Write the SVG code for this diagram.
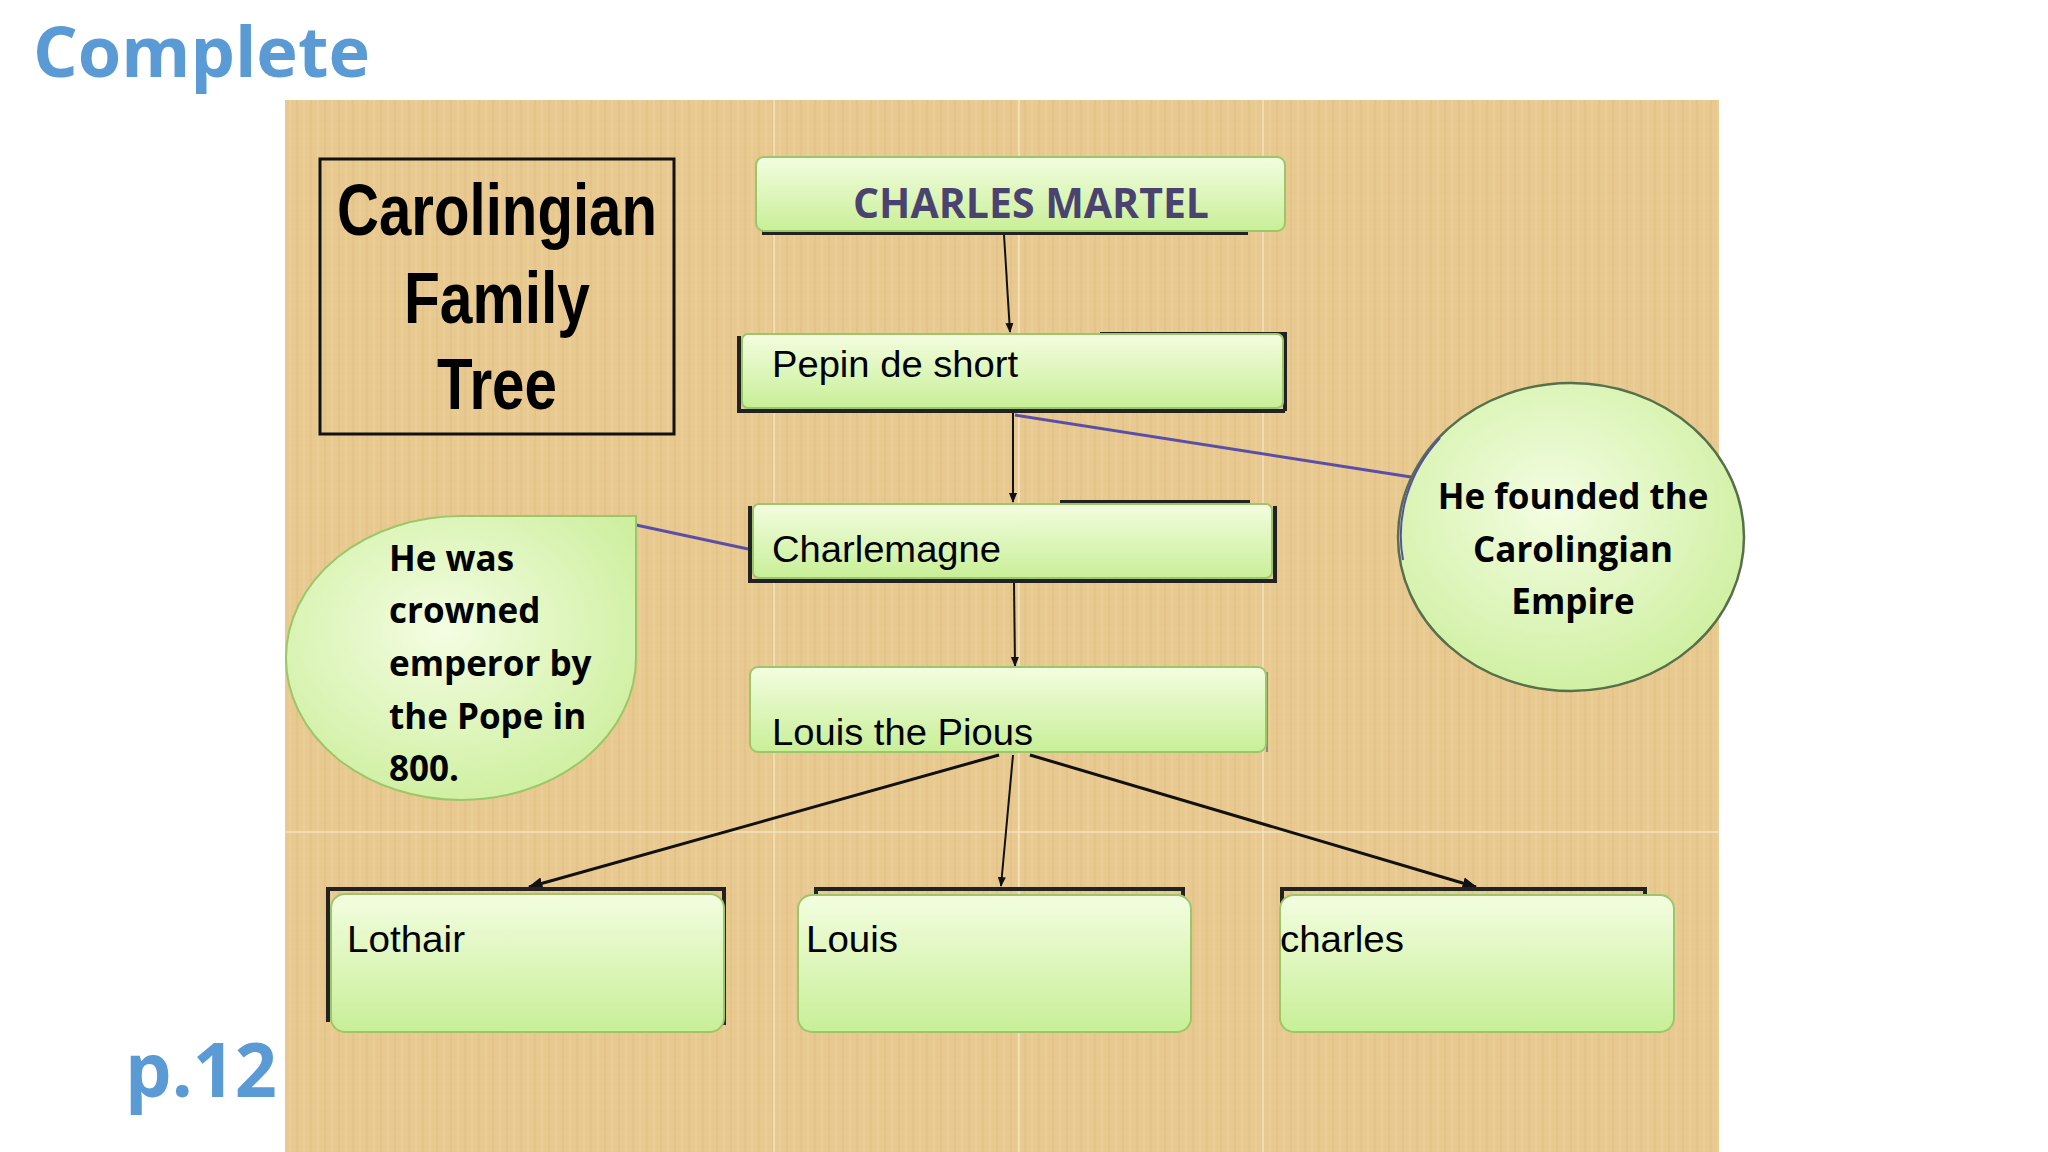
<svg xmlns="http://www.w3.org/2000/svg" width="2048" height="1152" viewBox="0 0 2048 1152">
<defs>
<linearGradient id="g" x1="0" y1="0" x2="0" y2="1">
<stop offset="0" stop-color="#f3fde0"/>
<stop offset="1" stop-color="#c8ef97"/>
</linearGradient>
<radialGradient id="gc" cx="0.45" cy="0.4" r="0.65">
<stop offset="0" stop-color="#f4fde2"/>
<stop offset="1" stop-color="#cdef9e"/>
</radialGradient>
<pattern id="tex" width="14" height="9" patternUnits="userSpaceOnUse">
<rect width="14" height="9" fill="#e8c990"/>
<line x1="3" y1="0" x2="3" y2="9" stroke="#d9b477" stroke-width="1" opacity="0.45"/>
<line x1="10" y1="0" x2="10" y2="9" stroke="#f3dcaa" stroke-width="1" opacity="0.5"/>
<line x1="0" y1="4" x2="14" y2="4" stroke="#dcbb80" stroke-width="1" opacity="0.25"/>
</pattern>
<marker id="ah" viewBox="0 0 10 10" refX="9" refY="5" markerWidth="5" markerHeight="5" orient="auto">
<path d="M0,1 L10,5 L0,9 Z" fill="#111"/>
</marker>
<style>
.box{fill:url(#g);stroke:#9cc66a;stroke-width:2}
.lbl{font-family:"Liberation Sans",Arial,sans-serif;font-size:37px;fill:#000}
.bub{font-family:"Open Sans","Noto Sans",sans-serif;font-weight:bold;font-size:35px;fill:#000}
.con{stroke:#111;fill:none;marker-end:url(#ah)}
.note{stroke:#5b4ea6;stroke-width:3;fill:none}
.shadow{stroke:#222;stroke-width:4;fill:none}
</style>
</defs>
<rect width="2048" height="1152" fill="#ffffff"/>
<g id="panel">
<rect x="285" y="100" width="1434" height="1052" fill="url(#tex)"/>
<line x1="774" y1="100" x2="774" y2="1152" stroke="#f6e7c4" stroke-width="2" opacity="0.7"/>
<line x1="1019" y1="100" x2="1019" y2="1152" stroke="#f6e7c4" stroke-width="2" opacity="0.7"/>
<line x1="1263" y1="100" x2="1263" y2="1152" stroke="#f6e7c4" stroke-width="2" opacity="0.7"/>
<line x1="285" y1="832" x2="1719" y2="832" stroke="#f6e7c4" stroke-width="2" opacity="0.7"/>
</g>
<g id="heading">
<text x="33" y="77" font-family="'Open Sans','Noto Sans',sans-serif" font-weight="bold" font-size="70" fill="#5b9bd5" textLength="337" lengthAdjust="spacingAndGlyphs">Complete</text>
</g>
<g id="page">
<text x="125" y="1097" font-family="'Open Sans','Noto Sans',sans-serif" font-weight="bold" font-size="76" fill="#5b9bd5" textLength="152" lengthAdjust="spacingAndGlyphs">p.12</text>
</g>
<g id="title">
<rect x="320" y="159" width="354" height="275" fill="none" stroke="#111" stroke-width="3"/>
<g font-family="'Liberation Sans',Arial,sans-serif" font-weight="bold" font-size="72" fill="#000" text-anchor="middle">
<text x="497" y="235" textLength="320" lengthAdjust="spacingAndGlyphs">Carolingian</text>
<text x="497" y="323" textLength="186" lengthAdjust="spacingAndGlyphs">Family</text>
<text x="497" y="409" textLength="120" lengthAdjust="spacingAndGlyphs">Tree</text>
</g>
</g>
<g id="connectors">
<line class="con" x1="1004" y1="235" x2="1010" y2="332" stroke-width="2"/>
<line class="con" x1="1013" y1="413" x2="1013" y2="502" stroke-width="2"/>
<line class="con" x1="1014" y1="583" x2="1015" y2="666" stroke-width="2"/>
<line class="con" x1="999" y1="755" x2="529" y2="887" stroke-width="3"/>
<line class="con" x1="1013" y1="755" x2="1001" y2="886" stroke-width="2"/>
<line class="con" x1="1030" y1="755" x2="1476" y2="887" stroke-width="3"/>
<line class="note" x1="1015" y1="415" x2="1411" y2="477"/>
<line class="note" x1="636" y1="525" x2="748" y2="549"/>
</g>
<g id="charles-martel">
<line class="shadow" x1="762" y1="233" x2="1248" y2="233"/>
<rect class="box" x="756" y="157" width="529" height="74" rx="8"/>
<text x="1031" y="218" text-anchor="middle" font-family="'Open Sans','Noto Sans',sans-serif" font-weight="bold" font-size="42" fill="#4a4370" textLength="356" lengthAdjust="spacingAndGlyphs">CHARLES MARTEL</text>
</g>
<g id="pepin">
<path class="shadow" d="M739,336 V411 H1285 M1100,334 H1285 V411"/>
<rect class="box" x="742" y="334" width="541" height="74" rx="6"/>
<text class="lbl" x="772" y="377" textLength="246" lengthAdjust="spacingAndGlyphs">Pepin de short</text>
</g>
<g id="charlemagne">
<path class="shadow" d="M750,506 V581 H1275 V506 M1060,502 H1250"/>
<rect class="box" x="753" y="504" width="519" height="74" rx="6"/>
<text class="lbl" x="772" y="562" textLength="229" lengthAdjust="spacingAndGlyphs">Charlemagne</text>
</g>
<g id="louis-the-pious">
<line x1="1267" y1="672" x2="1267" y2="752" stroke="#888" stroke-width="2"/>
<rect class="box" x="750" y="667" width="516" height="85" rx="8"/>
<text class="lbl" x="772" y="745" textLength="261" lengthAdjust="spacingAndGlyphs">Louis the Pious</text>
</g>
<g id="lothair">
<path class="shadow" d="M328,1022 V889 H724 V1025"/>
<rect class="box" x="331" y="894" width="393" height="138" rx="14"/>
<text class="lbl" x="347" y="952" textLength="118" lengthAdjust="spacingAndGlyphs">Lothair</text>
</g>
<g id="louis">
<path class="shadow" d="M816,906 V889 H1183 V906"/>
<rect class="box" x="798" y="895" width="393" height="137" rx="14"/>
<text class="lbl" x="806" y="952" textLength="92" lengthAdjust="spacingAndGlyphs">Louis</text>
</g>
<g id="charles">
<path class="shadow" d="M1282,906 V889 H1645 V906"/>
<rect class="box" x="1280" y="895" width="394" height="137" rx="14"/>
<text class="lbl" x="1280" y="952" textLength="124" lengthAdjust="spacingAndGlyphs">charles</text>
</g>
<g id="crowned-note">
<path d="M461,516 L636,516 L636,658 A175,142 0 1 1 461,516 Z" fill="url(#gc)" stroke="#9cc66a" stroke-width="2"/>
<text class="bub" x="389" y="571">He was</text>
<text class="bub" x="389" y="623">crowned</text>
<text class="bub" x="389" y="676">emperor by</text>
<text class="bub" x="389" y="729">the Pope in</text>
<text class="bub" x="389" y="781">800.</text>
</g>
<g id="founded-note">
<ellipse cx="1571" cy="537" rx="173" ry="154" fill="url(#gc)" stroke="#56704a" stroke-width="2.5"/>
<path d="M1403,560 A173,154 0 0 1 1440,438" fill="none" stroke="#5b4ea6" stroke-width="2"/>
<g class="bub" text-anchor="middle">
<text x="1573" y="509">He founded the</text>
<text x="1573" y="562">Carolingian</text>
<text x="1573" y="614">Empire</text>
</g>
</g>
</svg>
